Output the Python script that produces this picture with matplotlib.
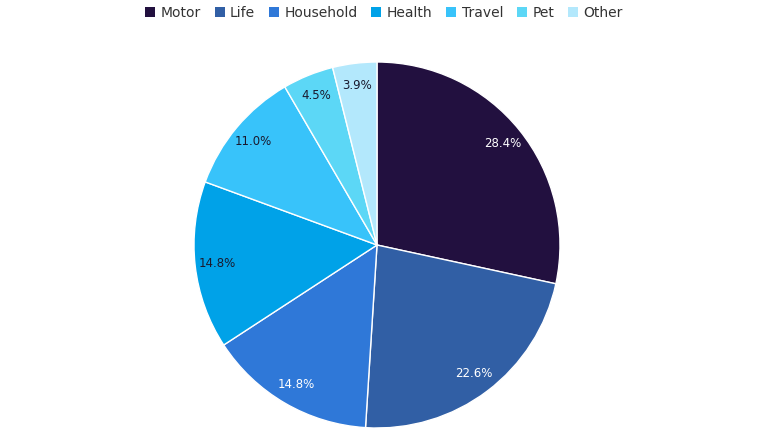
import matplotlib.pyplot as plt
from matplotlib.patches import Patch

categories = ['Motor', 'Life', 'Household', 'Health', 'Travel', 'Pet', 'Other']
shares = [28.4, 22.6, 14.8, 14.8, 11.0, 4.5, 3.9]
colors = ['#22103f', '#315fa5', '#2f78d8', '#00a2e8', '#38c3fa', '#5cd7f6', '#b3e8fc']
text_colors = ['white', 'white', 'white', '#1a1a2e', '#1a1a2e', '#1a1a2e', '#1a1a2e']

fig = plt.figure(figsize=(7.68, 4.44), dpi=100)
ax = fig.add_axes([0, 0, 1, 1])
r = 183.0
cx, cy = 377, 199

wedges, texts, autotexts = ax.pie(
    shares, colors=colors, startangle=90, counterclock=False,
    autopct='%1.1f%%', pctdistance=0.88,
    wedgeprops=dict(edgecolor='white', linewidth=1),
    textprops=dict(fontsize=8.5))
for t, c in zip(autotexts, text_colors):
    t.set_color(c)

ax.set_xlim(-cx / r, (768 - cx) / r)
ax.set_ylim(-cy / r, (444 - cy) / r)
ax.set_aspect('auto')
ax.axis('off')

handles = [Patch(facecolor=c, label=n) for c, n in zip(colors, categories)]
fig.legend(handles=handles, loc='upper center', bbox_to_anchor=(0.5, 1.015),
           ncol=7, frameon=False, fontsize=10, handlelength=0.7, handleheight=0.7,
           handletextpad=0.4, columnspacing=1.0, labelcolor='#333333')

fig.savefig('out.png', dpi=100)
